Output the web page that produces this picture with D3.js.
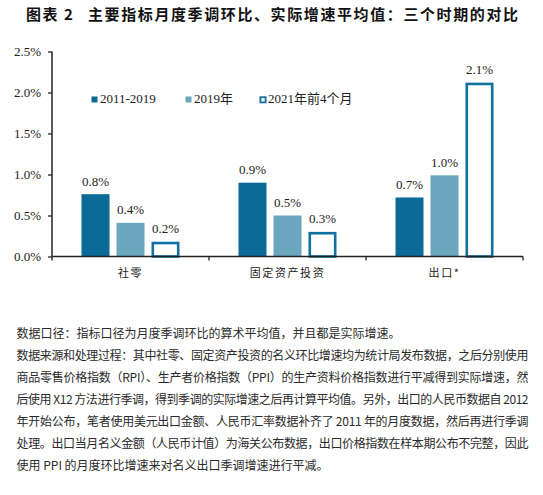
<!DOCTYPE html>
<html><head><meta charset="utf-8">
<script src="https://cdn.jsdelivr.net/npm/d3@7"></script>
<style>
body{margin:0;background:#fff;}
svg{display:block;}
</style></head>
<body>
<script>
const categories = ["社零", "固定资产投资", "出口*"];
const seriesNames = ["2011-2019", "2019年", "2021年前4个月"];
const v2011_2019 = [0.76, 0.90, 0.72];
const v2019 = [0.41, 0.50, 0.99];
const v2021 = [0.18, 0.30, 2.12];
const labels2011_2019 = ["0.8%", "0.9%", "0.7%"];
const labels2019 = ["0.4%", "0.5%", "1.0%"];
const labels2021 = ["0.2%", "0.3%", "2.1%"];
const yTicks = [0, 0.5, 1.0, 1.5, 2.0, 2.5];
const titleLead = "图表 2";
const titleText = "主要指标月度季调环比、实际增速平均值：三个时期的对比";
const notes = [
  "数据口径：指标口径为月度季调环比的算术平均值，并且都是实际增速。",
  "数据来源和处理过程：其中社零、固定资产投资的名义环比增速均为统计局发布数据，之后分别使用",
  "商品零售价格指数（RPI）、生产者价格指数（PPI）的生产资料价格指数进行平减得到实际增速，然",
  "后使用 X12 方法进行季调，得到季调的实际增速之后再计算平均值。另外，出口的人民币数据自 2012",
  "年开始公布，笔者使用美元出口金额、人民币汇率数据补齐了 2011 年的月度数据，然后再进行季调",
  "处理。出口当月名义金额（人民币计值）为海关公布数据，出口价格指数在样本期公布不完整，因此",
  "使用 PPI 的月度环比增速来对名义出口季调增速进行平减。"
];

const values = [v2011_2019, v2019, v2021];
const valueLabels = [labels2011_2019, labels2019, labels2021];
const colors = ["#0b6a97", "#6aa6be", "#1170a0"];
const W = 543, H = 495;
const serif = "'Liberation Serif','DejaVu Serif',serif";
const cjk = "'Noto Sans CJK SC','Noto Sans',sans-serif";

const svg = d3.select("body").append("svg").attr("width", W).attr("height", H);

// title
svg.append("text").attr("x", 26).attr("y", 20)
  .attr("font-family", cjk).attr("font-weight", 700).attr("font-size", 15)
  .attr("fill", "#111").attr("letter-spacing", 1.5).text(titleLead);
svg.append("text").attr("x", 88).attr("y", 20)
  .attr("font-family", cjk).attr("font-weight", 700).attr("font-size", 15)
  .attr("fill", "#111").attr("textLength", 430).attr("lengthAdjust", "spacing")
  .text(titleText);

const x0 = d3.scaleBand().domain(categories).range([52, 523]).padding(0);
const x1 = d3.scaleBand().domain(seriesNames)
  .range([(x0.bandwidth() - 98) / 2, (x0.bandwidth() + 98) / 2]).paddingInner(0.2).paddingOuter(0);
const y = d3.scaleLinear().domain([0, 2.5]).range([256.5, 51.5]);

// bars
seriesNames.forEach((s, si) => {
  const g = svg.append("g");
  categories.forEach((c, ci) => {
    const v = values[si][ci];
    const bx = x0(c) + x1(s);
    const bw = x1.bandwidth();
    if (si < 2) {
      g.append("rect").attr("x", bx).attr("y", y(v)).attr("width", bw)
        .attr("height", y(0) - y(v)).attr("fill", colors[si]);
    } else {
      const sw = 2.6;
      g.append("rect").attr("x", bx + sw / 2).attr("y", y(v) + sw / 2)
        .attr("width", bw - sw).attr("height", y(0) - y(v) - sw / 2)
        .attr("fill", "#fff").attr("stroke", colors[si]).attr("stroke-width", sw);
    }
    g.append("text").attr("x", bx + bw / 2).attr("y", y(v) - 8.5)
      .attr("text-anchor", "middle").attr("font-family", serif).attr("font-size", 13)
      .attr("fill", "#222").text(valueLabels[si][ci]);
  });
});

// y axis
const yAxis = svg.append("g").attr("transform", "translate(52,0)")
  .call(d3.axisLeft(y).tickValues(yTicks).tickFormat(d => d.toFixed(1) + "%").tickSize(4).tickPadding(7));
yAxis.select(".domain").attr("stroke", "#222").attr("stroke-width", 1.5).attr("d", `M0,${y(2.5)}V${y(0)}`);
yAxis.selectAll(".tick line").attr("stroke", "#222").attr("stroke-width", 1.3);
yAxis.selectAll(".tick text").attr("font-family", serif).attr("font-size", 13).attr("fill", "#222");

// x axis
const xg = svg.append("g").attr("transform", `translate(0,${y(0)})`);
xg.append("line").attr("x1", 52).attr("x2", 523).attr("stroke", "#222").attr("stroke-width", 1.5);
const bounds = categories.map(c => x0(c)).concat([x0(categories[categories.length - 1]) + x0.bandwidth()]);
bounds.forEach(b => {
  xg.append("line").attr("x1", b).attr("x2", b).attr("y1", 0).attr("y2", 4)
    .attr("stroke", "#222").attr("stroke-width", 1.3);
});
categories.forEach(c => {
  xg.append("text").attr("x", x0(c) + x0.bandwidth() / 2).attr("y", 20)
    .attr("text-anchor", "middle").attr("font-family", cjk).attr("font-size", 11)
    .attr("letter-spacing", 1.6).attr("fill", "#222").text(c);
});

// legend
const legendX = [91.5, 185.5, 259.5];
seriesNames.forEach((s, si) => {
  const lx = legendX[si];
  if (si < 2) {
    svg.append("rect").attr("x", lx).attr("y", 96.5).attr("width", 6).attr("height", 6).attr("fill", colors[si]);
  } else {
    svg.append("rect").attr("x", lx + 0.9).attr("y", 97.2).attr("width", 5.2).attr("height", 5.2)
      .attr("fill", "#fff").attr("stroke", colors[si]).attr("stroke-width", 1.8);
  }
  svg.append("text").attr("x", lx + 8.5).attr("y", 102.5)
    .attr("font-family", serif + ",'Noto Sans CJK SC'").attr("font-size", 13).attr("fill", "#222").text(s);
});

// notes
const noteY = [338, 360, 382, 404, 426, 448, 470];
notes.forEach((t, i) => {
  const tx = svg.append("text").attr("x", 16.5).attr("y", noteY[i])
    .attr("font-family", cjk).attr("font-size", 12).attr("fill", "#2a2a2a").text(t);
  if (i >= 1 && i <= 5) tx.attr("textLength", 512).attr("lengthAdjust", "spacing");
});
</script>
</body></html>
